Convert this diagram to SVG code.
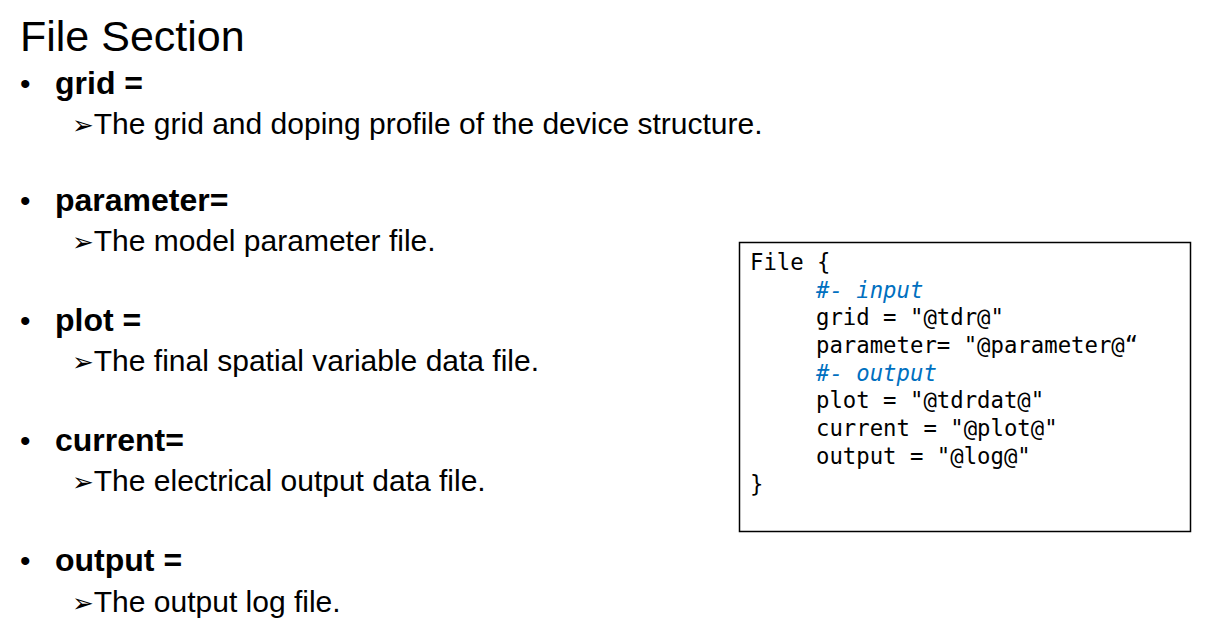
<svg xmlns="http://www.w3.org/2000/svg" width="1222" height="641" viewBox="0 0 1222 641">
<style>
.t{font-family:"Liberation Sans",Arial,sans-serif;fill:#000}
.h{font-size:32px;font-weight:bold}
.d{font-size:30px}
.s{font-size:30px}
.a{font-family:"DejaVu Sans",sans-serif;font-size:26px}
.c{font-family:"DejaVu Sans Mono","Liberation Mono",monospace;font-size:22.3px;fill:#000}
.b{fill:#0070c0;font-style:italic}
</style>
<rect width="1222" height="641" fill="#fff"/>
<text class="t" x="20" y="51" font-size="43">File Section</text>
<g id="items">
<text class="t d" x="20" y="94">•</text><text class="t h" x="55" y="94">grid =</text>
<text class="t s" x="72" y="134"><tspan class="a">➢</tspan>The grid and doping profile of the device structure.</text>
<text class="t d" x="20" y="211">•</text><text class="t h" x="55" y="211">parameter=</text>
<text class="t s" x="72" y="251"><tspan class="a">➢</tspan>The model parameter file.</text>
<text class="t d" x="20" y="331">•</text><text class="t h" x="55" y="331">plot =</text>
<text class="t s" x="72" y="371"><tspan class="a">➢</tspan>The final spatial variable data file.</text>
<text class="t d" x="20" y="451">•</text><text class="t h" x="55" y="451">current=</text>
<text class="t s" x="72" y="491"><tspan class="a">➢</tspan>The electrical output data file.</text>
<text class="t d" x="20" y="571">•</text><text class="t h" x="55" y="571">output =</text>
<text class="t s" x="72" y="612"><tspan class="a">➢</tspan>The output log file.</text>
</g>
<g id="code">
<rect x="739.5" y="242.5" width="451" height="289" fill="#fff" stroke="#000" stroke-width="1.5"/>
<text class="c" x="750" y="270">File {</text>
<text class="c b" x="816" y="298">#- input</text>
<text class="c" x="816" y="325">grid = "@tdr@"</text>
<text class="c" x="816" y="353">parameter= "@parameter@“</text>
<text class="c b" x="816" y="381">#- output</text>
<text class="c" x="816" y="408">plot = "@tdrdat@"</text>
<text class="c" x="816" y="436">current = "@plot@"</text>
<text class="c" x="816" y="464">output = "@log@"</text>
<text class="c" x="750" y="492">}</text>
</g>
</svg>
